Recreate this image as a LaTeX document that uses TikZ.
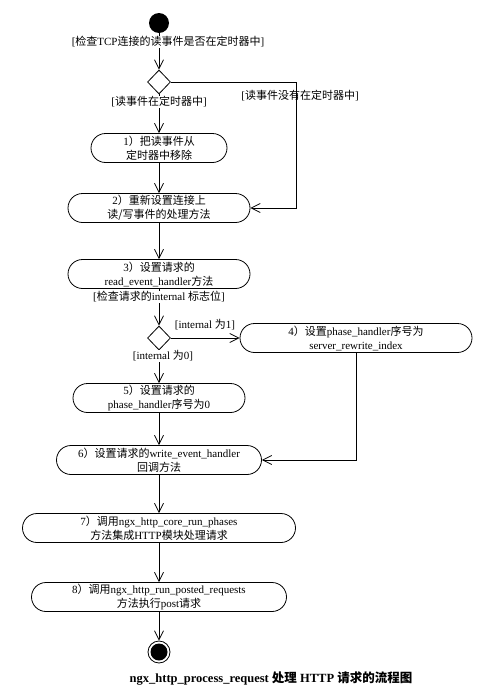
\documentclass[tikz,border=0pt]{standalone}
\usepackage{fontspec}
\setmainfont{Liberation Serif}
\newfontfamily\cjk{Noto Sans CJK SC}
\newcommand{\zh}[1]{{\cjk #1}}
\usetikzlibrary{arrows.meta,shapes.geometric}

\tikzset{
  seta/.style={-{Straight Barb[length=9pt,width=9pt]}},
  acao/.style={draw, rounded corners=14.5pt, minimum height=29pt, inner sep=1pt, align=center,
    font=\fontsize{11}{14}\selectfont},
  decisao/.style={draw, diamond, minimum width=23pt, minimum height=24pt, inner sep=0pt},
  rotulo/.style={fill=white, inner sep=1pt, font=\fontsize{11}{13}\selectfont},
  inicio/.style={circle, fill=black, minimum size=20pt, inner sep=0pt},
  fim/.style={circle, draw, minimum size=22pt, inner sep=0pt,
    path picture={\fill (path picture bounding box.center) circle (8.5pt);}}
}

\begin{document}
\begin{tikzpicture}[x=1pt,y=-1pt,line width=0.8pt]
  % Area da figura
  \useasboundingbox (0,0) rectangle (485,699);

  % Inicio e decisoes
  \node[inicio] (ini) at (159,23) {};
  \node[decisao] (d1) at (159,82) {};
  \node[decisao] (d2) at (159,338) {};

  % Acoes
  \node[acao, minimum width=136pt] (a1) at (159,148) {1\zh{）把读事件从}\\\zh{定时器中移除}};
  \node[acao, minimum width=182pt] (a2) at (159,208) {2\zh{）重新设置连接上}\\\zh{读/写事件的处理方法}};
  \node[acao, minimum width=182pt] (a3) at (159,274) {3\zh{）设置请求的}\\read\_event\_handler\zh{方法}};
  \node[acao, minimum width=232pt] (a4) at (356,338) {4\zh{）设置}phase\_handler\zh{序号为}\\server\_rewrite\_index};
  \node[acao, minimum width=172pt] (a5) at (159,398) {5\zh{）设置请求的}\\phase\_handler\zh{序号为}0};
  \node[acao, minimum width=205pt] (a6) at (159,460) {6\zh{）设置请求的}write\_event\_handler\\\zh{回调方法}};
  \node[acao, minimum width=273pt] (a7) at (159,528) {7\zh{）调用}ngx\_http\_core\_run\_phases\\\zh{方法集成}HTTP\zh{模块处理请求}};
  \node[acao, minimum width=255pt] (a8) at (159,597) {8\zh{）调用}ngx\_http\_run\_posted\_requests\\\zh{方法执行}post\zh{请求}};

  % Fim
  \node[fim] (fim) at (159,652) {};

  % Setas do fluxo principal
  \draw[seta] (ini) -- (d1);
  \draw[seta] (d1) -- (a1);
  \draw[seta] (a1) -- (a2);
  \draw[seta] (a2) -- (a3);
  \draw[seta] (a3) -- (d2);
  \draw[seta] (d2) -- (a5);
  \draw[seta] (a5) -- (a6);
  \draw[seta] (a6) -- (a7);
  \draw[seta] (a7) -- (a8);
  \draw[seta] (a8) -- (fim);

  % Desvios laterais
  \coordinate (c1) at (296,82);
  \draw[seta] (d1.east) -- (c1) |- (a2.east);
  \draw[seta] (d2.east) -- (a4.west);
  \draw[seta] (a4.south) |- (a6.east);

  % Condicoes
  \node[rotulo] (l1) at (168,42) {[\zh{检查}TCP\zh{连接的读事件是否在定时器中}]};
  \node[rotulo] (l2) at (159,102) {[\zh{读事件在定时器中}]};
  \node[rotulo, fill=none] (l3) at (300,96) {[\zh{读事件没有在定时器中}]};
  \node[rotulo] (l4) at (159,297) {[\zh{检查请求的}internal \zh{标志位}]};
  \node[rotulo] (l5) at (205,325) {[internal \zh{为}1]};
  \node[rotulo] (l6) at (163,356) {[internal \zh{为}0]};

  % Legenda
  \node[font=\fontsize{12.5}{15}\selectfont\bfseries] (leg) at (271,678)
    {ngx\_http\_process\_request \zh{处理} HTTP \zh{请求的流程图}};
\end{tikzpicture}
\end{document}
